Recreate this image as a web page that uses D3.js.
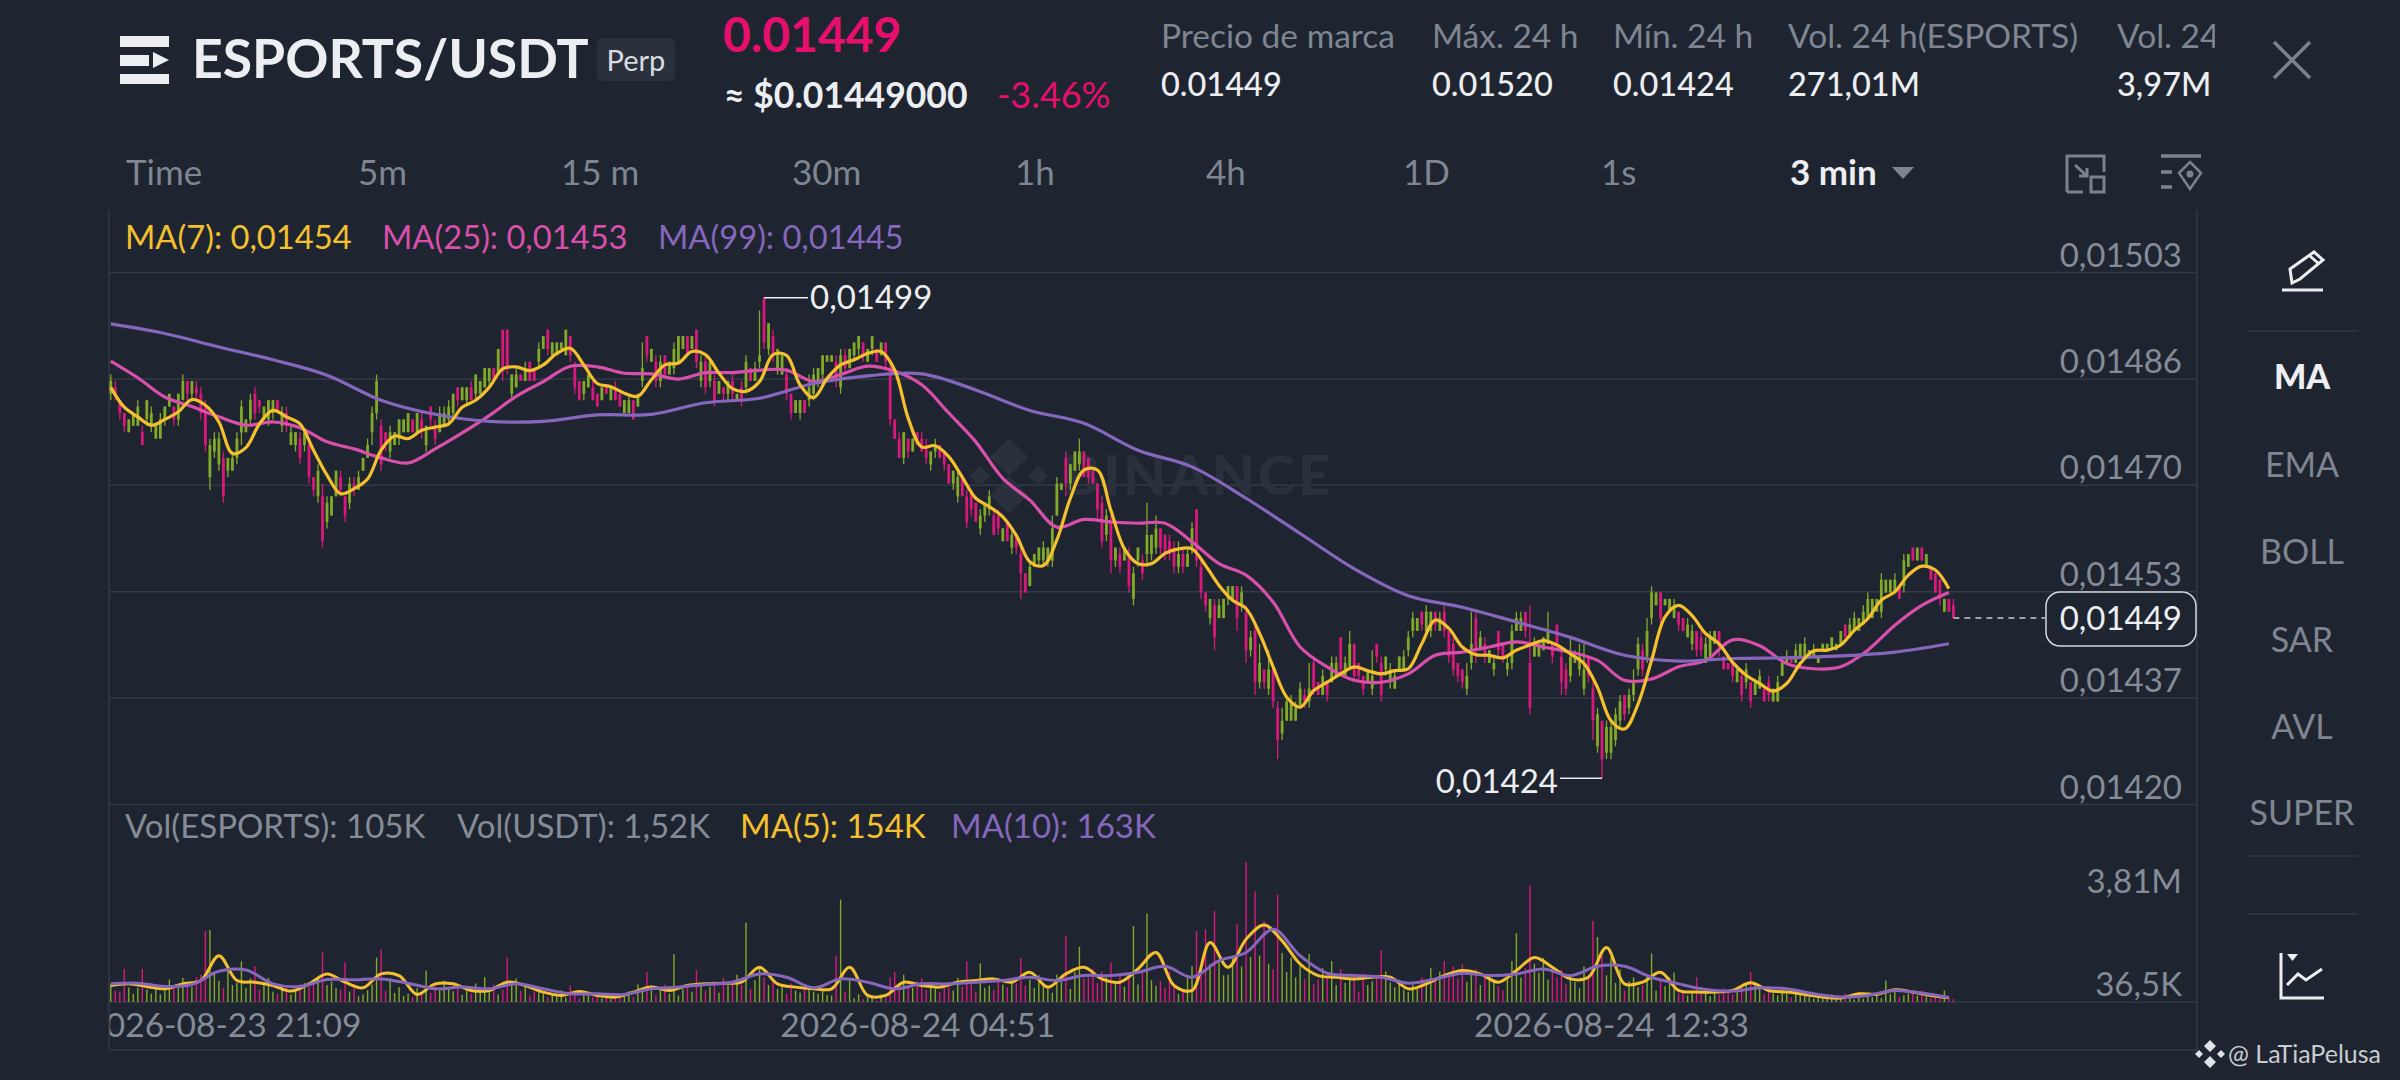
<!DOCTYPE html>
<html>
<head>
<meta charset="utf-8">
<title>ESPORTS/USDT</title>
<script src="https://d3js.org/d3.v7.min.js"></script>
<style>
  html, body { margin: 0; padding: 0; background: #1e2530; }
  svg { display: block; }
  text { font-family: "Lato", "Noto Sans", sans-serif; }
</style>
</head>
<body>
<div id="chart"></div>
<script>
// PRICES ARE IN 0.00001 USDT, ONE ENTRY PER 3 MIN CANDLE
var highs = [
  1487,1486,1483,1481,1480,1481,1483,1479,1483,1482,
  1479,1481,1482,1484,1482,1484,1487,1486,1486,1486,
  1485,1483,1477,1478,1478,1475,1474,1475,1478,1483,
  1480,1484,1485,1483,1482,1483,1483,1483,1482,1482,
  1479,1478,1478,1478,1477,1471,1473,1470,1468,1468,
  1472,1472,1468,1471,1471,1472,1474,1477,1482,1487,
  1480,1478,1479,1478,1480,1480,1481,1480,1481,1481,
  1479,1482,1480,1482,1482,1483,1484,1485,1485,1485,
  1486,1487,1486,1488,1488,1488,1491,1494,1494,1487,
  1488,1487,1489,1489,1488,1492,1493,1494,1492,1492,
  1492,1494,1493,1489,1486,1486,1487,1486,1484,1485,
  1485,1485,1486,1484,1483,1484,1483,1484,1492,1493,
  1491,1490,1490,1490,1489,1492,1493,1493,1493,1493,
  1494,1490,1490,1489,1487,1486,1485,1486,1487,1484,
  1486,1490,1488,1489,1497,1499,1495,1494,1491,1490,
  1488,1484,1483,1483,1483,1487,1488,1488,1490,1490,
  1490,1490,1491,1491,1491,1492,1493,1492,1491,1493,
  1491,1492,1492,1489,1480,1478,1478,1477,1477,1478,
  1478,1477,1475,1477,1476,1475,1473,1472,1472,1471,
  1469,1469,1467,1466,1467,1469,1466,1466,1463,1464,
  1463,1462,1460,1456,1458,1459,1460,1461,1460,1465,
  1471,1470,1475,1473,1475,1477,1475,1474,1472,1470,
  1468,1466,1465,1460,1460,1460,1460,1457,1460,1459,
  1467,1462,1465,1463,1462,1462,1461,1461,1460,1460,
  1464,1466,1458,1453,1452,1452,1452,1452,1454,1454,
  1454,1454,1451,1447,1448,1445,1441,1444,1442,1436,
  1435,1437,1437,1436,1439,1438,1442,1443,1439,1441,
  1439,1443,1443,1446,1443,1447,1445,1442,1440,1441,
  1444,1445,1443,1443,1442,1441,1443,1444,1447,1450,
  1449,1450,1451,1450,1450,1450,1451,1447,1446,1442,
  1441,1442,1450,1450,1447,1446,1444,1443,1447,1445,
  1443,1448,1450,1450,1450,1451,1446,1445,1446,1450,
  1445,1448,1444,1442,1446,1444,1445,1445,1443,1439,
  1435,1433,1433,1433,1435,1437,1437,1438,1441,1446,
  1445,1449,1454,1453,1453,1452,1452,1452,1450,1449,
  1449,1448,1447,1447,1446,1447,1447,1447,1443,1442,
  1442,1441,1441,1442,1439,1439,1441,1438,1440,1438,
  1440,1443,1444,1443,1445,1445,1446,1444,1445,1443,
  1445,1445,1446,1445,1447,1448,1449,1450,1449,1451,
  1453,1452,1452,1456,1455,1455,1456,1454,1459,1459,
  1460,1460,1460,1459,1457,1456,1455,1452,1452,1452
];
var lows = [
  1483,1483,1480,1478,1478,1479,1479,1476,1479,1478,
  1477,1477,1479,1482,1479,1479,1483,1483,1483,1483,
  1480,1475,1469,1474,1472,1467,1471,1472,1473,1476,
  1478,1479,1480,1481,1480,1479,1480,1481,1478,1478,
  1476,1475,1473,1475,1470,1468,1467,1460,1463,1465,
  1468,1468,1464,1466,1468,1469,1472,1474,1476,1480,
  1472,1475,1474,1476,1476,1478,1478,1478,1478,1477,
  1475,1479,1476,1478,1479,1479,1480,1482,1483,1482,
  1483,1483,1484,1485,1485,1486,1487,1486,1487,1483,
  1485,1486,1486,1486,1486,1488,1491,1490,1490,1490,
  1491,1490,1489,1484,1483,1483,1485,1483,1482,1483,
  1484,1483,1483,1482,1481,1481,1480,1482,1485,1489,
  1489,1485,1485,1487,1487,1487,1489,1491,1490,1491,
  1488,1485,1484,1485,1482,1484,1483,1483,1483,1483,
  1482,1484,1486,1486,1488,1491,1490,1489,1487,1487,
  1483,1480,1481,1480,1481,1482,1483,1485,1486,1489,
  1489,1485,1484,1487,1488,1489,1490,1489,1489,1490,
  1489,1490,1488,1479,1477,1474,1473,1474,1475,1476,
  1475,1473,1472,1474,1474,1472,1470,1469,1467,1468,
  1463,1465,1464,1462,1464,1465,1462,1462,1461,1461,
  1459,1459,1452,1453,1454,1457,1457,1457,1457,1457,
  1465,1469,1468,1469,1472,1472,1471,1470,1470,1464,
  1460,1461,1456,1457,1456,1458,1453,1451,1457,1455,
  1457,1458,1459,1459,1458,1458,1456,1456,1456,1457,
  1459,1457,1452,1450,1448,1444,1449,1449,1451,1452,
  1447,1450,1442,1443,1437,1438,1438,1437,1435,1427,
  1430,1433,1433,1433,1435,1435,1435,1437,1437,1437,
  1436,1439,1440,1440,1440,1441,1439,1439,1437,1439,
  1437,1442,1436,1440,1438,1438,1441,1441,1443,1446,
  1447,1447,1446,1446,1447,1447,1446,1442,1440,1439,
  1438,1437,1441,1442,1444,1442,1442,1440,1443,1442,
  1440,1441,1447,1447,1446,1434,1443,1443,1444,1445,
  1442,1444,1437,1437,1439,1442,1440,1437,1439,1430,
  1428,1424,1427,1427,1429,1432,1433,1434,1436,1440,
  1440,1442,1448,1451,1448,1451,1450,1449,1447,1447,
  1446,1444,1443,1443,1442,1443,1445,1443,1441,1441,
  1439,1439,1436,1438,1435,1437,1438,1436,1436,1436,
  1436,1440,1442,1442,1442,1443,1443,1443,1443,1442,
  1444,1444,1444,1444,1445,1446,1446,1447,1447,1448,
  1449,1449,1450,1449,1453,1453,1453,1452,1453,1457,
  1458,1458,1458,1457,1455,1453,1451,1450,1450,1449
];
var opens = [
  1484,1485,1483,1481,1478,1479,1479,1478,1480,1479,
  1477,1477,1480,1482,1482,1480,1483,1486,1484,1485,
  1484,1482,1471,1475,1473,1474,1472,1472,1474,1478,
  1478,1480,1484,1483,1480,1480,1481,1483,1479,1481,
  1476,1476,1477,1476,1476,1471,1468,1468,1464,1465,
  1468,1471,1468,1467,1470,1469,1472,1474,1478,1481,
  1479,1478,1475,1476,1477,1478,1478,1480,1478,1480,
  1476,1482,1479,1478,1479,1480,1481,1485,1483,1483,
  1485,1484,1484,1485,1486,1488,1487,1494,1494,1484,
  1485,1487,1486,1489,1488,1489,1491,1494,1490,1490,
  1491,1490,1493,1488,1486,1484,1485,1485,1484,1483,
  1485,1483,1485,1484,1481,1481,1483,1482,1486,1493,
  1489,1489,1486,1490,1487,1488,1489,1491,1493,1491,
  1494,1486,1489,1486,1486,1484,1485,1484,1486,1483,
  1485,1485,1488,1486,1489,1499,1491,1493,1488,1487,
  1487,1484,1481,1481,1483,1483,1484,1486,1487,1489,
  1489,1489,1485,1490,1488,1490,1491,1492,1489,1491,
  1491,1490,1492,1488,1480,1477,1474,1477,1475,1478,
  1477,1476,1473,1475,1476,1475,1473,1470,1468,1471,
  1468,1469,1467,1463,1465,1466,1465,1465,1461,1464,
  1460,1462,1459,1456,1454,1457,1458,1458,1458,1458,
  1465,1469,1474,1470,1472,1473,1475,1474,1472,1470,
  1467,1462,1464,1458,1459,1458,1459,1452,1458,1458,
  1459,1459,1460,1463,1462,1461,1460,1457,1459,1457,
  1460,1466,1457,1453,1449,1451,1449,1449,1452,1452,
  1454,1451,1450,1444,1447,1439,1441,1438,1441,1435,
  1431,1433,1433,1433,1435,1437,1436,1442,1439,1437,
  1439,1439,1440,1446,1440,1441,1445,1442,1440,1439,
  1438,1445,1442,1441,1439,1438,1441,1441,1444,1447,
  1447,1450,1447,1447,1450,1447,1450,1447,1445,1442,
  1441,1438,1442,1449,1444,1445,1442,1441,1447,1445,
  1441,1442,1447,1447,1450,1442,1443,1443,1444,1445,
  1445,1448,1443,1441,1440,1442,1441,1438,1443,1438,
  1429,1433,1428,1428,1430,1433,1437,1435,1437,1441,
  1444,1443,1449,1451,1453,1451,1450,1449,1450,1449,
  1446,1445,1447,1446,1442,1443,1445,1447,1443,1442,
  1442,1439,1440,1439,1439,1437,1438,1438,1439,1436,
  1436,1440,1442,1443,1442,1443,1443,1443,1443,1442,
  1444,1444,1444,1444,1445,1448,1446,1447,1447,1448,
  1449,1449,1450,1450,1453,1453,1453,1454,1454,1457,
  1460,1458,1460,1457,1457,1456,1455,1450,1452,1451
];
var closes = [
  1486,1484,1481,1479,1480,1481,1482,1476,1483,1481,
  1479,1480,1482,1484,1480,1484,1486,1484,1486,1484,
  1481,1476,1476,1477,1477,1468,1474,1474,1477,1482,
  1480,1483,1481,1482,1482,1483,1483,1481,1481,1479,
  1478,1478,1474,1478,1471,1469,1472,1461,1467,1468,
  1472,1469,1465,1470,1469,1471,1474,1476,1481,1486,
  1473,1476,1478,1478,1480,1480,1481,1478,1481,1478,
  1479,1480,1477,1481,1481,1482,1484,1483,1485,1485,
  1483,1487,1486,1488,1488,1486,1491,1488,1488,1487,
  1487,1486,1488,1486,1486,1491,1493,1491,1492,1492,
  1492,1494,1490,1485,1483,1486,1487,1483,1482,1485,
  1484,1485,1483,1482,1483,1483,1480,1484,1488,1490,
  1491,1486,1489,1487,1489,1491,1493,1493,1490,1493,
  1489,1489,1485,1489,1483,1486,1484,1486,1484,1484,
  1483,1489,1486,1488,1490,1492,1495,1490,1491,1490,
  1484,1481,1483,1483,1481,1485,1487,1488,1490,1490,
  1490,1486,1490,1488,1491,1492,1493,1490,1491,1493,
  1489,1492,1489,1480,1477,1474,1478,1475,1477,1476,
  1475,1474,1475,1476,1474,1473,1470,1472,1471,1468,
  1464,1466,1464,1465,1467,1468,1462,1463,1463,1461,
  1462,1460,1456,1453,1457,1459,1460,1460,1460,1463,
  1470,1470,1470,1473,1475,1475,1471,1471,1470,1466,
  1461,1465,1458,1460,1457,1460,1454,1456,1460,1456,
  1462,1462,1463,1460,1459,1459,1457,1459,1457,1459,
  1463,1458,1453,1451,1452,1446,1451,1452,1454,1454,
  1449,1453,1444,1446,1439,1442,1439,1441,1436,1430,
  1433,1436,1436,1435,1438,1436,1438,1438,1437,1440,
  1437,1442,1442,1441,1442,1445,1440,1440,1438,1441,
  1440,1443,1437,1443,1441,1440,1443,1443,1446,1449,
  1449,1448,1450,1450,1448,1449,1447,1443,1441,1440,
  1439,1440,1445,1444,1446,1443,1444,1442,1444,1443,
  1442,1447,1449,1449,1447,1435,1445,1445,1446,1447,
  1443,1445,1439,1438,1443,1443,1443,1441,1440,1433,
  1434,1427,1432,1432,1434,1436,1434,1437,1439,1445,
  1441,1447,1453,1453,1449,1452,1452,1451,1448,1447,
  1448,1447,1444,1444,1445,1446,1447,1444,1441,1441,
  1440,1441,1437,1441,1436,1439,1440,1436,1437,1438,
  1439,1442,1443,1442,1444,1445,1445,1444,1444,1443,
  1445,1445,1446,1445,1447,1446,1448,1449,1449,1450,
  1452,1452,1452,1455,1455,1455,1455,1452,1458,1459,
  1458,1460,1458,1459,1455,1453,1452,1452,1450,1449
];

// MOVING AVERAGES, EVERY 3RD / 6TH / 12TH CANDLE
var ma7 = [
  1485,1481.9,1480.4,1479.1,1480,1481.2,1483.1,1482.2,1479.6,1474.7,
  1475.6,1479.3,1481.4,1480.4,1479.3,1475.2,1471.3,1468.4,1469.2,1470.7,
  1475.2,1477.4,1477,1478.3,1478.8,1479.3,1481.9,1483,1485,1487.9,
  1488.2,1487.6,1488.5,1490.3,1491.1,1488.5,1485.6,1485.1,1484.1,1483.6,
  1486.2,1488.5,1488.8,1490.6,1490.1,1487.2,1484.8,1484.4,1485.9,1490.1,
  1490,1485.4,1483.4,1486.4,1488.5,1489.3,1490.3,1490.6,1487.7,1480.2,
  1475.7,1475.9,1474.2,1471,1467.7,1466.4,1464.8,1461.9,1457.8,1457.2,
  1461.2,1467.7,1472.1,1472.1,1465.8,1459.8,1457.5,1457.5,1459.1,1459.8,
  1459.8,1457.2,1454.1,1451.8,1450.5,1446.6,1441.4,1436.7,1435.1,1437.7,
  1439,1440.3,1441.4,1440.8,1440.3,1440.8,1441.1,1445,1448.7,1447.4,
  1444.5,1443.3,1443.2,1442.8,1444,1444.8,1445.5,1444.8,1443.4,1441.9,
  1438.2,1433,1431.7,1435.6,1442.4,1449.2,1451,1449.4,1446.6,1445,
  1442.1,1440.1,1438.8,1437.6,1438.8,1441.9,1443.9,1444,1444.8,1447.1,
  1448.9,1451.8,1453.1,1455.7,1457.1,1456.5,1453.6
];
var ma25 = [
  1489.1,1486.5,1483.5,1482,1480.4,1479.1,1479.6,1478.7,1476.5,1475.4,
  1474,1473.2,1475.4,1477.9,1480.6,1483.6,1485.9,1488.3,1488.2,1487.2,
  1487.1,1486.3,1487.3,1487.3,1487.7,1487.7,1485.9,1487,1488.3,1487.5,
  1485.4,1481,1476.5,1470.8,1467.4,1463.2,1464.4,1464,1463.8,1463.8,
  1460.9,1457.5,1455.7,1451.5,1444.5,1441.4,1439.3,1439,1440.3,1443.2,
  1443.7,1444.5,1445.3,1444.5,1443.7,1442.4,1439.3,1439.5,1441.4,1442.4,
  1445.6,1444.7,1441.9,1441.1,1441.4,1444,1447.9,1451,1453
];
var ma99 = [
  1494.9,1493.4,1491.3,1489.3,1486.9,1483,1480.8,1479.7,1479.7,1480.7,
  1480.8,1482.6,1483.3,1485.6,1486.8,1487.1,1484.6,1481.4,1479.4,1475.2,
  1472.6,1467.7,1462.2,1456.7,1452.5,1450.7,1448.4,1446,1443.2,1442.3,
  1442.7,1442.8,1443.1,1443.7,1445
];

// VOLUME IN THOUSANDS, ONE ENTRY PER CANDLE
var volumes = [
  640,420,380,1210,530,300,520,1210,460,310,
  600,280,540,820,510,660,880,700,560,900,
  1000,2602,2638,1100,780,520,1300,620,700,1488,
  520,860,1307,450,700,880,380,300,610,540,
  270,480,640,700,560,780,920,1815,620,750,
  520,460,1452,380,660,210,280,430,640,1633,
  1936,420,880,330,540,220,310,180,510,290,
  1150,340,640,480,780,540,390,620,260,420,
  310,680,520,908,370,640,280,450,1633,700,
  860,420,640,240,380,520,310,180,290,240,
  430,170,605,380,120,260,340,170,260,130,
  210,100,280,160,250,390,180,640,500,1089,
  430,260,560,640,310,1754,240,480,620,380,
  1174,640,420,560,760,340,880,620,700,1000,
  640,2904,480,800,1300,900,620,760,480,560,
  300,680,420,340,560,480,380,300,430,260,
  240,1694,3751,380,800,140,280,100,220,160,
  60,280,180,900,1100,580,1000,620,520,760,
  860,440,700,480,360,640,540,420,880,560,
  1488,700,380,1416,520,600,440,860,640,540,
  780,680,1609,600,820,520,980,700,520,340,
  1000,740,2420,480,1100,2021,860,900,1200,700,
  1120,900,1450,720,1000,560,1020,2783,640,1100,
  3243,800,600,760,520,1120,620,300,430,900,
  1320,2600,1120,2662,1380,3328,1500,980,1000,1640,
  2844,1300,5118,1650,4053,1700,2970,1400,1200,3932,
  1800,1100,1620,900,1420,840,1760,640,820,1240,
  900,1500,620,1200,700,840,1000,380,1040,620,
  760,900,1900,1120,720,540,820,450,360,640,
  520,900,680,1240,820,1120,1500,1040,1300,860,
  1380,740,1040,1200,620,900,1000,720,580,420,
  840,1500,2516,900,1240,4259,1400,1080,1620,820,
  1300,900,1180,640,1020,740,500,1300,840,2970,
  2380,1700,980,1640,700,1200,420,760,900,540,
  620,960,1780,420,840,580,900,1080,320,430,
  240,380,907,300,460,220,400,260,500,340,
  280,420,540,620,1089,700,480,280,560,320,
  240,540,300,180,460,260,340,180,120,240,
  190,120,280,90,160,300,140,90,240,120,
  330,180,260,140,787,300,460,180,240,300,
  380,240,420,210,130,270,120,423,180,105
];
var volMa5 = [
  605,665,569,484,665,786,1694,786,726,605,
  399,665,1029,726,520,1029,968,278,665,665,
  424,424,726,605,363,242,387,242,182,363,
  545,424,605,665,690,726,1271,665,545,484,
  484,1271,242,242,726,605,545,726,786,847,
  726,1089,545,1029,1271,847,726,1210,1815,605,
  424,2178,1271,2299,2819,2239,1392,968,908,847,
  908,908,484,665,968,1150,1029,726,1150,1634,
  1271,847,908,1997,665,726,1089,424,363,363,
  424,702,424,363,278,182,145,303,278,448,
  363,242,154
];
var volMa10 = [
  665,690,569,641,1125,1174,665,569,822,811,
  847,690,484,545,484,665,484,302,302,278,
  484,545,641,726,1029,908,520,847,726,484,
  665,665,726,786,908,786,968,968,1089,1307,
  908,1512,1815,2662,1694,1053,968,908,690,847,
  1053,968,1029,1210,968,1307,1307,908,665,460,
  399,520,484,302,182,242,424,327,163
];

// TICKS AND LABELS
var priceTicks = [1503, 1486.4, 1469.8, 1453.2, 1436.6, 1420];
var volumeTicks = [36.5, 3810];
var volumeTickLabels = ['36,5K', '3,81M'];
var timeTicks = [25, 179, 333];
var timeTickLabels = ['2026-08-23 21:09', '2026-08-24 04:51', '2026-08-24 12:33'];
var intervals = ['Time', '5m', '15 m', '30m', '1h', '4h', '1D', '1s'];
var intervalX = [126, 358, 561, 792, 1015, 1206, 1403, 1601];
var indicators = ['MA', 'EMA', 'BOLL', 'SAR', 'AVL', 'SUPER'];
var indicatorY = [389, 477, 564, 652, 739, 825];
var statNames = ['Precio de marca', 'Máx. 24 h', 'Mín. 24 h', 'Vol. 24 h(ESPORTS)', 'Vol. 24 h(USDT)'];
var statValues = ['0.01449', '0.01520', '0.01424', '271,01M', '3,97M'];
var statX = [1161, 1432, 1613, 1788, 2117];
var lastPrice = 1449, maxPrice = 1499, minPrice = 1424;

// COLOURS
var bg = '#1e2530', gridColor = '#333a46', axisText = '#858c97', softText = '#7f8691';
var up = '#83a929', down = '#d9187c', yellow = '#f4c02f', pink = '#d84fac', purple = '#8767bd';
var pinkText = '#e60f6d', white = '#eceef1';

// SETTINGS
var plot = { left: 109, right: 2197, top: 210, priceTop: 272, priceBottom: 804, volTop: 898, volBottom: 1002, bottom: 1050 };

var svg = d3.select('#chart').append('svg')
   .attr('width', 2400)
   .attr('height', 1080)
   .style('background', bg);

// TEXT HELPER
function label(parent, str, x, y, size, color, weight, anchor) {
   return parent.append('text')
      .attr('x', x)
      .attr('y', y)
      .attr('font-size', size)
      .attr('font-weight', weight || 400)
      .attr('text-anchor', anchor || 'start')
      .attr('fill', color)
      .text(str);
}

// SCALES
var xScale = d3.scaleLinear().domain([25, 333]).range([223.4, 1611]);
var yPrice = d3.scaleLinear().domain([1420, 1503]).range([plot.priceBottom, plot.priceTop]);
var yVolume = d3.scaleLinear().domain([0, 3810]).range([plot.volBottom, plot.volTop]);

function priceText(v) { return (v / 100000).toFixed(5).replace('.', ','); }

// CLIP FOR THE CUT OFF FIRST DATE
svg.append('clipPath').attr('id', 'plotClip').append('rect')
   .attr('x', plot.left)
   .attr('y', 0)
   .attr('width', plot.right - plot.left)
   .attr('height', 1080);

// PRICE GRID AND LABELS
var priceAxis = svg.append('g')
   .attr('transform', 'translate(' + plot.left + ',0)')
   .call(d3.axisRight(yPrice).tickValues(priceTicks).tickSize(plot.right - plot.left).tickFormat(priceText));
priceAxis.select('.domain').remove();
priceAxis.selectAll('line').attr('stroke', gridColor).attr('stroke-width', 1.5);
priceAxis.selectAll('text')
   .attr('x', 2182 - plot.left)
   .attr('dy', -6)
   .attr('text-anchor', 'end')
   .attr('font-size', 33)
   .attr('font-family', 'Lato')
   .attr('fill', axisText);

// TIME GRID AND LABELS
var timeAxis = svg.append('g')
   .attr('transform', 'translate(0,' + plot.volBottom + ')')
   .attr('clip-path', 'url(#plotClip)')
   .call(d3.axisBottom(xScale).tickValues(timeTicks).tickSize(plot.top - plot.volBottom)
      .tickFormat((d, i) => { return timeTickLabels[i] }));
timeAxis.select('.domain').remove();
timeAxis.selectAll('line').attr('stroke', gridColor).attr('stroke-width', 1.2);
timeAxis.selectAll('text')
   .attr('y', 35)
   .attr('dy', 0)
   .attr('font-size', 33.500)
   .attr('font-family', 'Lato')
   .attr('fill', axisText);

// FRAME LINES
var frame = svg.append('g').attr('stroke', gridColor).attr('stroke-width', 1.5);
frame.append('line').attr('x1', plot.left).attr('x2', plot.left).attr('y1', plot.top).attr('y2', plot.bottom);
frame.append('line').attr('x1', plot.right).attr('x2', plot.right).attr('y1', plot.top).attr('y2', plot.bottom);
frame.append('line').attr('x1', plot.left).attr('x2', plot.right).attr('y1', plot.volBottom).attr('y2', plot.volBottom);
frame.append('line').attr('x1', plot.left).attr('x2', plot.right).attr('y1', plot.bottom).attr('y2', plot.bottom);

// WATERMARK
var mark = svg.append('g').attr('fill', '#2a313d');
mark.append('path').attr('d', 'M1009 438l19 19-19 19-19-19zM1009 476l19 19-19 19-19-19zM980 466l10 10-10 10-10-10zM1038 466l10 10-10 10-10-10z');
label(mark, 'BINANCE', 1063, 495, 56, '#2a313d', 900).attr('letter-spacing', 3);

// CANDLES
var candleIdx = d3.range(highs.length);
function candleColor(i) { return closes[i] >= opens[i] ? up : down; }

svg.append('g').selectAll('line')
   .data(candleIdx)
   .enter().append('line')
      .attr('x1', (i) => { return xScale(i) })
      .attr('x2', (i) => { return xScale(i) })
      .attr('y1', (i) => { return yPrice(highs[i]) })
      .attr('y2', (i) => { return yPrice(lows[i]) })
      .attr('stroke', candleColor)
      .attr('stroke-width', 1.3);

svg.append('g').selectAll('rect')
   .data(candleIdx)
   .enter().append('rect')
      .attr('x', (i) => { return xScale(i) - 1.4 })
      .attr('width', 2.8)
      .attr('y', (i) => { return yPrice(Math.max(opens[i], closes[i])) })
      .attr('height', (i) => { return Math.max(1.5, Math.abs(yPrice(opens[i]) - yPrice(closes[i]))) })
      .attr('fill', candleColor);

// MOVING AVERAGE LINES
function maLine(parent, values, step, yScale, color, width) {
   var pathify = d3.line()
      .x((d, i) => { return xScale(i * step) })
      .y((d) => { return yScale(d) })
      .curve(d3.curveCatmullRom.alpha(0.5));
   parent.append('path')
      .attr('fill', 'none')
      .attr('stroke', color)
      .attr('stroke-width', width)
      .attr('stroke-linejoin', 'round')
      .attr('d', pathify(values));
}
maLine(svg, ma25, 6, yPrice, pink, 3.2);
maLine(svg, ma99, 12, yPrice, purple, 3.2);
maLine(svg, ma7, 3, yPrice, yellow, 3.2);

// VOLUME BARS
svg.append('g').selectAll('rect')
   .data(candleIdx)
   .enter().append('rect')
      .attr('x', (i) => { return xScale(i) - 0.7 })
      .attr('width', 1.4)
      .attr('y', (i) => { return yVolume(volumes[i]) })
      .attr('height', (i) => { return plot.volBottom - yVolume(volumes[i]) })
      .attr('fill', candleColor);
maLine(svg, volMa5, 4, yVolume, yellow, 3);
maLine(svg, volMa10, 6, yVolume, purple, 3);

// VOLUME LABELS
var volumeAxis = svg.append('g')
   .attr('transform', 'translate(2182,0)')
   .call(d3.axisRight(yVolume).tickValues(volumeTicks).tickSize(0)
      .tickFormat((d, i) => { return volumeTickLabels[i] }));
volumeAxis.select('.domain').remove();
volumeAxis.selectAll('text')
   .attr('x', 0)
   .attr('dy', -6)
   .attr('text-anchor', 'end')
   .attr('font-size', 33)
   .attr('font-family', 'Lato')
   .attr('fill', axisText);

// LEGENDS
label(svg, 'MA(7): ' + priceText(1454), 125, 249, 32.700, yellow);
label(svg, 'MA(25): ' + priceText(1453), 382, 249, 32.700, pink);
label(svg, 'MA(99): ' + priceText(1445), 658, 249, 32.700, purple);
label(svg, 'Vol(ESPORTS): 105K', 125, 838, 33, axisText);
label(svg, 'Vol(USDT): 1,52K', 457, 838, 33, axisText);
label(svg, 'MA(5): 154K', 740, 838, 33, yellow);
label(svg, 'MA(10): 163K', 951, 838, 33, purple);

// MAX AND MIN MARKERS
var maxIdx = highs.indexOf(maxPrice), minIdx = lows.indexOf(minPrice);
svg.append('line')
   .attr('x1', xScale(maxIdx)).attr('x2', 808)
   .attr('y1', yPrice(maxPrice)).attr('y2', yPrice(maxPrice))
   .attr('stroke', white).attr('stroke-width', 1.5);
label(svg, priceText(maxPrice), 810, 309, 33, white);
svg.append('line')
   .attr('x1', xScale(minIdx)).attr('x2', 1560)
   .attr('y1', yPrice(minPrice)).attr('y2', yPrice(minPrice))
   .attr('stroke', white).attr('stroke-width', 1.5);
label(svg, priceText(minPrice), 1558, 793, 33, white, 400, 'end');

// LAST PRICE TAG
svg.append('line')
   .attr('x1', xScale(highs.length - 1)).attr('x2', 2045)
   .attr('y1', yPrice(lastPrice)).attr('y2', yPrice(lastPrice))
   .attr('stroke', '#c8ccd2').attr('stroke-width', 1.5).attr('stroke-dasharray', '6 5');
svg.append('rect')
   .attr('x', 2046).attr('y', 592).attr('width', 150).attr('height', 54).attr('rx', 14)
   .attr('fill', bg).attr('stroke', '#d5d8dd').attr('stroke-width', 1.5);
label(svg, priceText(lastPrice), 2182, 630, 33, white, 400, 'end');

// HEADER
var head = svg.append('g').attr('fill', white);
head.append('path').attr('d', 'M120 36h49v11h-49zM120 74h49v10h-49zM120 55h29v11h-29zM153 52l16 8-16 8z');
label(svg, 'ESPORTS/USDT', 192, 78, 53.500, white, 700);
svg.append('rect').attr('x', 597).attr('y', 38).attr('width', 78).attr('height', 43).attr('rx', 6).attr('fill', '#2a313c');
label(svg, 'Perp', 636, 71, 29, '#d8dbe0', 400, 'middle');
label(svg, '0.01449', 723, 52, 48, pinkText, 700);
label(svg, '≈ $0.01449000', 724, 108, 35.500, white, 700);
label(svg, '-3.46%', 997, 108, 36, pinkText, 400);

// STATS, LAST ONE IS CUT OFF AT THE CHART EDGE
svg.append('clipPath').attr('id', 'statClip').append('rect')
   .attr('x', 0).attr('y', 0).attr('width', 2215).attr('height', 120);
var stats = svg.append('g').attr('clip-path', 'url(#statClip)');
statNames.forEach((name, i) => {
   label(stats, name, statX[i], 48, 33.500, softText);
   label(stats, statValues[i], statX[i], 96, 32.500, white, 500);
});

// CLOSE BUTTON
svg.append('path')
   .attr('d', 'M2274 42L2310 78M2310 42L2274 78')
   .attr('stroke', '#7b828d').attr('stroke-width', 3.5).attr('fill', 'none');

// INTERVAL TABS
intervals.forEach((name, i) => {
   label(svg, name, intervalX[i], 185, 35, softText);
});
label(svg, '3 min', 1790, 185, 35, white, 700);
svg.append('path').attr('d', 'M1892 167h22l-11 12z').attr('fill', '#7e8591');

// TOOL ICONS
svg.append('path')
   .attr('d', 'M2067 192V156H2104V172M2067 192H2083M2075 165L2087 176M2087 168V176H2079M2091 177H2104V192H2091Z')
   .attr('stroke', '#7b828d').attr('stroke-width', 3).attr('fill', 'none');
svg.append('path')
   .attr('d', 'M2161 156H2201M2161 172H2172M2161 187H2172')
   .attr('stroke', '#7b828d').attr('stroke-width', 3.5).attr('fill', 'none');
svg.append('path')
   .attr('d', 'M2190 162L2201 173L2190 189L2179 173Z')
   .attr('stroke', '#7b828d').attr('stroke-width', 2.5).attr('fill', 'none');
svg.append('circle').attr('cx', 2190).attr('cy', 174).attr('r', 3.5).attr('fill', '#7b828d');

// SIDE PANEL
indicators.forEach((name, i) => {
   label(svg, name, 2302, indicatorY[i], 34, i === 0 ? white : softText, i === 0 ? 900 : 400, 'middle');
});
var sideLines = [331, 856, 914];
sideLines.forEach((y) => {
   svg.append('line')
      .attr('x1', 2247).attr('x2', 2358)
      .attr('y1', y).attr('y2', y)
      .attr('stroke', gridColor).attr('stroke-width', 1.5);
});
svg.append('path')
   .attr('d', 'M2282 290H2323M2292 283L2290 269L2314 252L2323 260L2300 279ZM2310 256L2319 264')
   .attr('stroke', white).attr('stroke-width', 3).attr('fill', 'none');
svg.append('path')
   .attr('d', 'M2281 953V998H2324M2287 985L2298 974L2306 980L2322 969')
   .attr('stroke', white).attr('stroke-width', 3).attr('fill', 'none');
svg.append('path').attr('d', 'M2287 954h11l-5.500 7z').attr('fill', white);

// AUTHOR TAG
var logo = svg.append('g').attr('fill', '#dfe2e6');
logo.append('path').attr('d', 'M2210 1040l6 6-6 6-6-6zM2210 1056l6 6-6 6-6-6zM2199 1050l4 4-4 4-4-4zM2221 1050l4 4-4 4-4-4z');
label(svg, '@ LaTiaPelusa', 2228, 1063, 25, '#c9ccd1');
</script>
</body>
</html>
